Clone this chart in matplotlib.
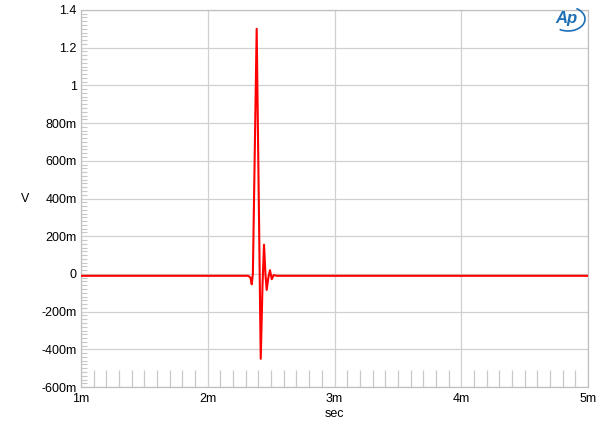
import numpy as np
import matplotlib
matplotlib.use("Agg")
import matplotlib.pyplot as plt
from matplotlib.patches import Arc
from matplotlib.ticker import MultipleLocator

plt.rcParams['font.family'] = ['Liberation Sans', 'DejaVu Sans']

# impulse response, time in ms, level in V
t_ms = [1.0, 2.32, 2.337, 2.347, 2.356, 2.386, 2.418, 2.432, 2.444,
        2.455, 2.465, 2.478, 2.491, 2.505, 2.52, 2.545, 5.0]
volts = [-0.01, -0.01, -0.02, -0.055, 0.0, 1.30, -0.45, -0.06, 0.155,
         0.0, -0.085, -0.02, 0.02, -0.028, -0.006, -0.01, -0.01]

y_ticks = [-0.6, -0.4, -0.2, 0, 0.2, 0.4, 0.6, 0.8, 1.0, 1.2, 1.4]
y_labels = ['-600m', '-400m', '-200m', '0', '200m', '400m', '600m',
            '800m', '1', '1.2', '1.4']
x_ticks = [1, 2, 3, 4, 5]
x_labels = ['1m', '2m', '3m', '4m', '5m']

fig = plt.figure(figsize=(6, 4.32), dpi=100)
ax = fig.add_axes([0.135, 0.104, 0.845, 0.873])

ax.plot(t_ms, volts, color='#ff0000', lw=1.5, zorder=3)

ax.set_xlim(1, 5)
ax.set_ylim(-0.6, 1.4)
ax.set_xticks(x_ticks)
ax.set_xticklabels(x_labels)
ax.set_yticks(y_ticks)
ax.set_yticklabels(y_labels)
ax.grid(True, color='#d0d0d0', lw=0.9)
ax.tick_params(axis='both', which='major', length=0, labelsize=9, pad=3)

# minor ticks drawn inside, like the analyzer plot
ax.xaxis.set_minor_locator(MultipleLocator(0.1))
ax.yaxis.set_minor_locator(MultipleLocator(0.02))
ax.tick_params(axis='x', which='minor', direction='in', length=12,
               color='#c8c8c8', width=0.9)
ax.tick_params(axis='y', which='minor', direction='in', length=4,
               color='#c8c8c8', width=0.8)
ax.tick_params(axis='x', which='major', pad=4)

for s in ax.spines.values():
    s.set_color('#c0c0c0')
    s.set_linewidth(0.9)

fig.text(25 / 600, 1 - 199 / 432, 'V', fontsize=9, ha='center', va='center')
fig.text(334 / 600, 1 - 414 / 432, 'sec', fontsize=9, ha='center', va='center')

# AP logo
fig.text(566 / 600, 1 - 19 / 432, 'Ap', fontsize=12, color='#1f6fb5',
         style='italic', fontweight='bold', ha='center', va='center')
fig.add_artist(Arc((568 / 600, 1 - 19 / 432), 34 / 600, 24 / 432,
                   theta1=-120, theta2=60, color='#1f6fb5', lw=1.2,
                   transform=fig.transFigure))

fig.savefig('out.png', dpi=100)
